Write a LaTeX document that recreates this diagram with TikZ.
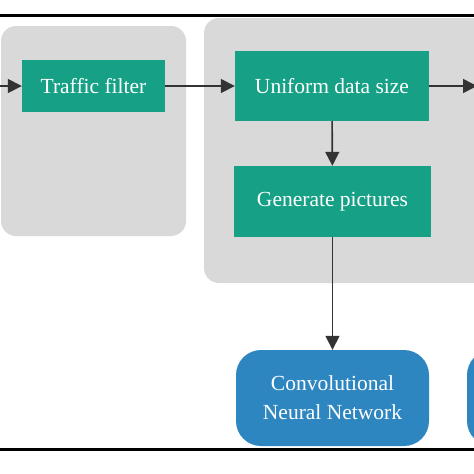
\documentclass[tikz,border=0pt]{standalone}
\usepackage{fontspec}
\setmainfont{Liberation Serif}
\usetikzlibrary{arrows.meta}
\definecolor{procgreen}{RGB}{22,160,133}
\definecolor{netblue}{RGB}{46,134,193}
\definecolor{panelgray}{RGB}{217,217,217}
\definecolor{linkgray}{RGB}{51,51,51}

\begin{document}
\begin{tikzpicture}[x=1pt, y=-1pt,
      every node/.style={font=\fontsize{21.5}{29}\selectfont, text=white, inner sep=0pt},
      proc/.style={fill=procgreen},
      net/.style={fill=netblue, rounded corners=25pt, align=center},
      panel/.style={fill=panelgray, rounded corners=15pt},
      link/.style={draw=linkgray, line width=1.6pt, -{Triangle[length=14pt,width=14pt]}}]
    \useasboundingbox (0,0) rectangle (474,474);
    \clip (0,0) rectangle (474,474);
    % panels
    \fill[panel] (1,26) rectangle (186,236);
    \fill[panel] (204,18) rectangle (500,283);
    % frame lines
    \draw[line width=3pt] (-5,15) -- (480,15);
    \draw[line width=3pt] (-5,449) -- (480,449);
    % steps
    \node[proc, minimum width=143pt, minimum height=52pt] (filter) at (93.5,86) {Traffic filter};
    \node[proc, minimum width=194pt, minimum height=70pt] (uniform) at (332,86) {Uniform data size};
    \node[proc, minimum width=197pt, minimum height=71pt] (pictures) at (332.5,201.5) {Generate pictures};
    \node[net, minimum width=193pt, minimum height=96pt] (cnn) at (332.5,398) {Convolutional\\Neural Network};
    \node[net, minimum width=100pt, minimum height=96pt] (next) at (517,398) {};
    % connectors
    \coordinate (in) at (-2,86);
    \coordinate (out) at (477,86);
    \draw[link] (in) -- (filter);
    \draw[link] (filter) -- (uniform);
    \draw[link] (uniform) -- (out);
    \draw[link] (uniform) -- (pictures);
    \draw[link] (pictures) -- (cnn);
  \end{tikzpicture}
\end{document}
